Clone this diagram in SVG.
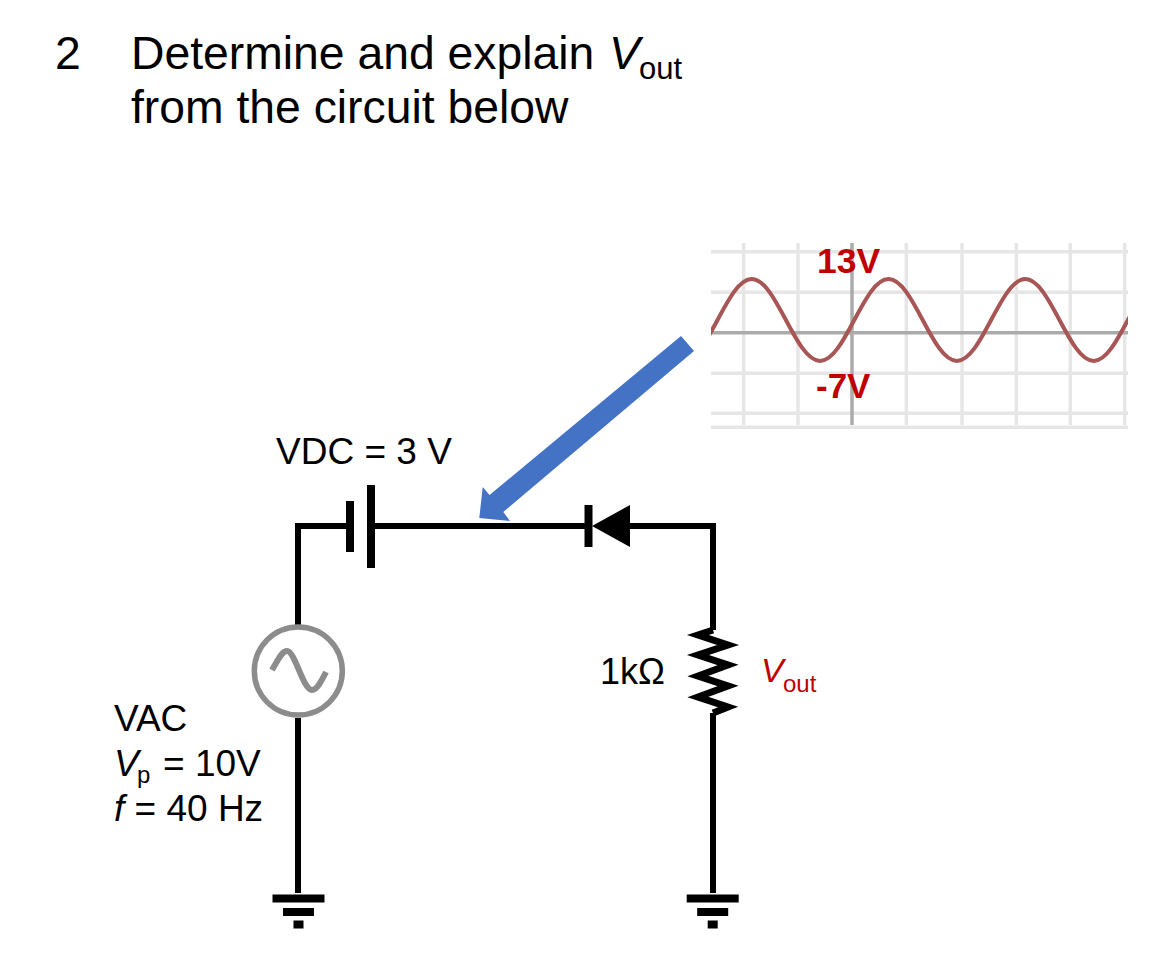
<svg xmlns="http://www.w3.org/2000/svg" width="1172" height="955" viewBox="0 0 1172 955">
<style>
text{font-family:"Liberation Sans",Arial,sans-serif;fill:#000}
.h{font-size:46.300px}.l{font-size:37px}.s{font-size:24px}.i{font-style:italic}
.r{fill:#c00000}.b{font-weight:bold}
.w{fill:none;stroke:#000;stroke-width:6}
.g{stroke:#e6e6e6;stroke-width:3.500;fill:none}
.g2{stroke:#ababab;stroke-width:3.500;fill:none}
</style>
<defs>
<clipPath id="pc"><rect x="711" y="240" width="417" height="190"/></clipPath>
<filter id="soft" x="-5%" y="-5%" width="110%" height="110%"><feGaussianBlur stdDeviation="0.7"/></filter>
<g id="gnd"><path d="M-26 0H26M-15.500 13.500H15.500M-5 26H5" stroke="#000" stroke-width="8" fill="none"/></g>
</defs>
<rect width="1172" height="955" fill="#fff"/>
<g id="question">
<text class="h" x="55" y="68.500">2</text>
<text class="h" x="131" y="68.500">Determine and explain</text>
<text class="h i" x="609" y="68.500">V</text>
<text x="639" y="78.500" font-size="31">out</text>
<text class="h" x="131" y="123">from the circuit below</text>
</g>
<g id="plot">
<g filter="url(#soft)">
<path class="g" d="M711 251.700H1128M711 292.300H1128M711 373.300H1128M711 413.300H1128M711 427.300H1128M743.700 243V425M798 243V425M906.300 243V425M962 243V425M1016.300 243V425M1070.300 243V425M1124.700 243V425"/>
<path class="g2" d="M711 332.700H1128M852 243V425"/>
</g>
<g clip-path="url(#pc)"><path filter="url(#soft)" d="M683.300 361C708.200 361 726.800 279 751.700 279S795.200 361 820.100 361S863.600 279 888.500 279S932 361 956.900 361S1000.400 279 1025.300 279S1068.800 361 1093.700 361S1137.200 279 1162.100 279" fill="none" stroke="#a85454" stroke-width="4"/></g>
<text x="817" y="273" class="b r" font-size="35.500">13V</text>
<text x="816" y="398" class="b r" font-size="35">-7V</text>
</g>
<g id="connectors">
<path class="w" d="M298 625V526H350M371 526H590M630 526H713V630M713 713V893M298 718V893"/>
</g>
<g id="battery">
<path d="M350 501V552M371 485V568" stroke="#000" stroke-width="8" fill="none"/>
<text class="l" x="276" y="464">VDC = 3 V</text>
</g>
<g id="diode">
<path d="M588.500 505V547" stroke="#000" stroke-width="8" fill="none"/>
<path d="M592 526L630 505V547Z" fill="#000"/>
</g>
<g id="resistor">
<path fill="none" stroke="#000" stroke-width="7" stroke-linejoin="miter" stroke-miterlimit="12" d="M713 630L698 635L728 645L698 655L728 665L698 676L728 686L698 697L728 707L713 713"/>
<text x="600" y="684" font-size="36">1kΩ</text>
<text class="i r" x="761" y="682" font-size="34">V</text>
<text class="r" x="783" y="692" font-size="24">out</text>
</g>
<g id="source">
<circle cx="298.300" cy="671" r="44" fill="#fff" stroke="#8c8c8c" stroke-width="5.500"/>
<path d="M272 670C278 660 282 651 287 651C295 651 303 690 312 690C317 690 322 680 326 672" fill="none" stroke="#8c8c8c" stroke-width="6"/>
<text class="l" x="114" y="731">VAC</text>
<text class="l i" x="114" y="776">V</text>
<text class="s" x="137" y="782.500">p</text>
<text class="l" x="163" y="776">= 10V</text>
<text class="l" x="114" y="821"><tspan class="i">f</tspan> = 40 Hz</text>
</g>
<use id="ground-left" href="#gnd" x="298.500" y="898.500"/>
<use id="ground-right" href="#gnd" x="712.700" y="898.500"/>
<g id="arrow">
<path d="M479.300 518L482.700 487L489.500 495L681 336L694 351L503.300 512L510 521Z" fill="#4472c4"/>
</g>
</svg>
